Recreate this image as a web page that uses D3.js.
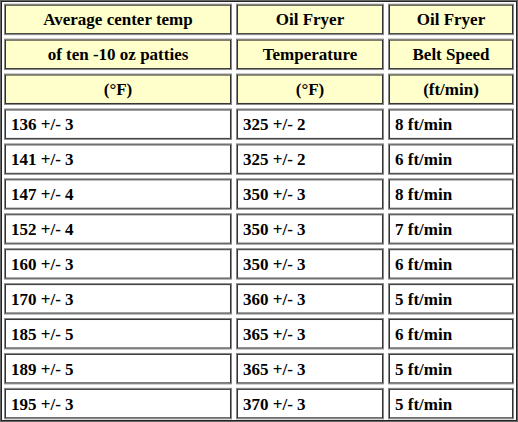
<!DOCTYPE html>
<html><head><meta charset="utf-8">
<script src="https://cdn.jsdelivr.net/npm/d3@7"></script>
<style>body{margin:0;background:#fff}</style>
</head><body>
<svg id="c" width="518" height="422"></svg>
<script>
var headers = [["Average center temp","Oil Fryer","Oil Fryer"],
               ["of ten -10 oz patties","Temperature","Belt Speed"],
               ["(°F)","(°F)","(ft/min)"]];
var centerTemp = ["136 +/- 3","141 +/- 3","147 +/- 4","152 +/- 4","160 +/- 3","170 +/- 3","185 +/- 5","189 +/- 5","195 +/- 3"];
var fryerTemp = ["325 +/- 2","325 +/- 2","350 +/- 3","350 +/- 3","350 +/- 3","360 +/- 3","365 +/- 3","365 +/- 3","370 +/- 3"];
var beltSpeed = ["8 ft/min","6 ft/min","8 ft/min","7 ft/min","6 ft/min","5 ft/min","6 ft/min","5 ft/min","5 ft/min"];

var rows = headers.map(function(h){return {cells:h, head:true};});
centerTemp.forEach(function(v,i){rows.push({cells:[v,fryerTemp[i],beltSpeed[i]], head:false});});

var colL = [4,236,388], colR = [232,384,514];
var y = d3.scaleBand().domain(d3.range(rows.length)).range([3,420]).paddingInner(0.1).paddingOuter(0.02);
var svg = d3.select("#c");

svg.append("rect").attr("x",0.5).attr("y",0.5).attr("width",517).attr("height",421)
  .attr("fill","#fff").attr("stroke","#666").attr("stroke-width",1);
svg.append("rect").attr("x",1.5).attr("y",1.5).attr("width",515).attr("height",419)
  .attr("fill","none").attr("stroke","#222").attr("stroke-width",1);

var g = svg.selectAll("g.row").data(rows).enter().append("g").attr("class","row")
  .attr("transform",function(d,i){return "translate(0,"+y(i)+")";});

g.each(function(d){
  var row = d3.select(this), h = y.bandwidth();
  d.cells.forEach(function(t,j){
    row.append("rect").attr("x",colL[j]+0.5).attr("y",0.5).attr("width",colR[j]-colL[j]-1).attr("height",h-1)
      .attr("fill",d.head?"#ffffcc":"#fff").attr("stroke","#888").attr("stroke-width",1);
    row.append("rect").attr("x",colL[j]+1.5).attr("y",1.5).attr("width",colR[j]-colL[j]-3).attr("height",h-3)
      .attr("fill","none").attr("stroke","#333").attr("stroke-width",1);
    row.append("text")
      .attr("x",d.head?(colL[j]+colR[j])/2:colL[j]+7)
      .attr("y",h/2+6)
      .attr("text-anchor",d.head?"middle":"start")
      .attr("font-family","Liberation Serif, Times New Roman, serif")
      .attr("font-weight","bold").attr("font-size",17).attr("fill","#000")
      .text(t);
  });
});
</script>
</body></html>
